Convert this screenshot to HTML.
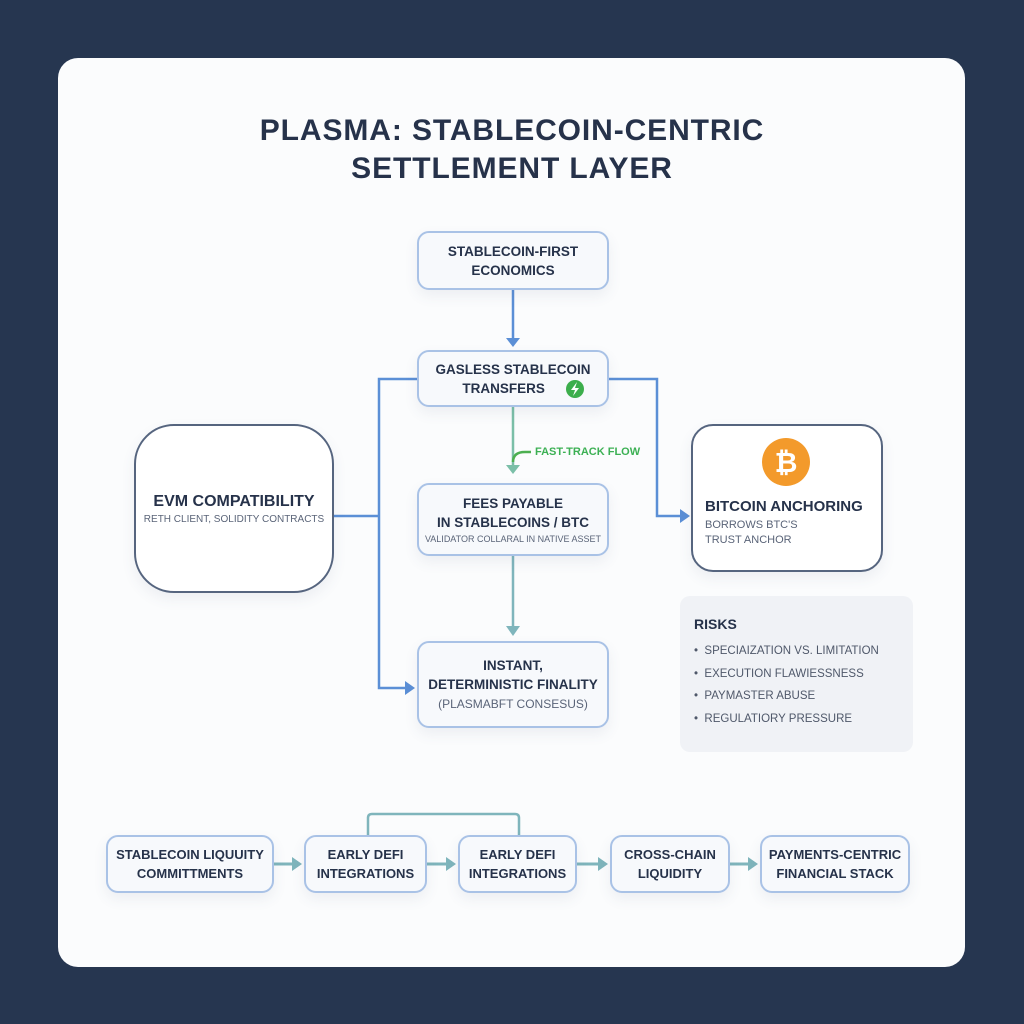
<!DOCTYPE html>
<html><head><meta charset="utf-8"><style>
*{margin:0;padding:0;box-sizing:border-box}
body{width:1024px;height:1024px;background:#263650;position:relative;overflow:hidden;font-family:"Liberation Sans",sans-serif;color:#26324a}
.card{position:absolute;left:58px;top:58px;width:907px;height:909px;background:#fbfcfd;border-radius:20px}
.t{position:absolute;left:0;width:1024px;text-align:center;font-weight:bold;font-size:30px;letter-spacing:0.9px;color:#26324a}
.b{position:absolute;border:2px solid #a9c2e6;border-radius:12px;background:#f7f9fc;display:flex;flex-direction:column;align-items:center;justify-content:center;text-align:center;font-weight:bold;font-size:13.5px;line-height:19px;color:#26324a;box-shadow:0 6px 14px rgba(60,80,120,.08)}
.s{font-weight:normal;font-size:10px;color:#5a6478;line-height:14px}
svg{position:absolute;left:0;top:0}
</style></head><body>
<div class="card"></div>
<div class="t" style="top:114px">PLASMA: STABLECOIN-CENTRIC</div>
<div class="t" style="top:152px">SETTLEMENT LAYER</div>
<svg width="1024" height="1024">
<g fill="none" stroke-width="2.5">
<path d="M513 290V338" stroke="#5b8fd6"/>
<path d="M417 379H379V688H405" stroke="#5b8fd6"/>
<path d="M334 516H379" stroke="#5b8fd6"/>
<path d="M609 379H657V516H680" stroke="#5b8fd6"/>
<path d="M513 407V465" stroke="#7bbfa8"/>
<path d="M513 462Q513 452 525 452H531" stroke="#4caf50"/>
<path d="M513 556V626" stroke="#7fb5bc"/>
<path d="M368 850V818Q368 814 372 814H515Q519 814 519 818V836" stroke="#7fb5bc"/>
<path d="M274 864H292M427 864H446M577 864H598M730 864H748" stroke="#7fb5bc" stroke-width="3"/>
</g>
<g>
<path d="M506 338H520L513 347Z" fill="#5b8fd6"/>
<path d="M405 681V695L415 688Z" fill="#5b8fd6"/>
<path d="M680 509V523L690 516Z" fill="#5b8fd6"/>
<path d="M506 465H520L513 474Z" fill="#7bbfa8"/>
<path d="M506 626H520L513 636Z" fill="#7fb5bc"/>
<path d="M292 857V871L302 864Z M446 857V871L456 864Z M598 857V871L608 864Z M748 857V871L758 864Z" fill="#7fb5bc"/>
</g>
<text x="535" y="455" font-family="Liberation Sans" font-size="11" font-weight="bold" fill="#3cb054">FAST-TRACK FLOW</text>
</svg>
<div class="b" style="left:417px;top:231px;width:192px;height:59px">STABLECOIN-FIRST<br>ECONOMICS</div>
<div class="b" style="left:417px;top:350px;width:192px;height:57px">GASLESS STABLECOIN<br>TRANSFERS &nbsp;&nbsp;&nbsp;&nbsp;</div>
<svg width="1024" height="1024" style="pointer-events:none"><circle cx="575" cy="389" r="9" fill="#3cae4c"/><path d="M577 382L571 390H575L573 396L579 388H575Z" fill="#fff"/></svg>
<div class="b" style="left:417px;top:483px;width:192px;height:73px">FEES PAYABLE<br>IN STABLECOINS / BTC<span class="s" style="font-size:9px">VALIDATOR COLLARAL IN NATIVE ASSET</span></div>
<div class="b" style="left:417px;top:641px;width:192px;height:87px">INSTANT,<br>DETERMINISTIC FINALITY<span class="s" style="font-size:12px;line-height:20px">(PLASMABFT CONSESUS)</span></div>
<div class="b" style="left:134px;top:424px;width:200px;height:169px;border-radius:40px;border-color:#56657f;background:#fff;font-size:16px;line-height:23px">EVM COMPATIBILITY<span class="s">RETH CLIENT, SOLIDITY CONTRACTS</span></div>
<div class="b" style="left:691px;top:424px;width:192px;height:148px;border-radius:22px;border-color:#56657f;background:#fff;align-items:flex-start;justify-content:flex-start;text-align:left;padding:70px 0 0 12px;font-size:15px;line-height:22px">BITCOIN ANCHORING<span class="s" style="font-size:11px;line-height:15px">BORROWS BTC'S<br>TRUST ANCHOR</span></div>
<svg width="1024" height="1024"><circle cx="786" cy="462" r="24" fill="#f39a2b"/><text x="786" y="472" text-anchor="middle" font-family="Liberation Sans" font-size="28" font-weight="bold" fill="#fff">₿</text></svg>
<div style="position:absolute;left:680px;top:596px;width:233px;height:156px;background:#f0f2f6;border-radius:10px;padding:20px 0 0 14px">
<div style="font-weight:bold;font-size:14px;color:#26324a;margin-bottom:8px">RISKS</div>
<div style="font-size:11.5px;color:#4f586a;line-height:22.5px">• &nbsp;SPECIAIZATION VS. LIMITATION<br>• &nbsp;EXECUTION FLAWIESSNESS<br>• &nbsp;PAYMASTER ABUSE<br>• &nbsp;REGULATIORY PRESSURE</div></div>
<div class="b" style="left:106px;top:835px;width:168px;height:58px;font-size:13px">STABLECOIN LIQUUITY<br>COMMITTMENTS</div>
<div class="b" style="left:304px;top:835px;width:123px;height:58px;font-size:13px">EARLY DEFI<br>INTEGRATIONS</div>
<div class="b" style="left:458px;top:835px;width:119px;height:58px;font-size:13px">EARLY DEFI<br>INTEGRATIONS</div>
<div class="b" style="left:610px;top:835px;width:120px;height:58px;font-size:13px">CROSS-CHAIN<br>LIQUIDITY</div>
<div class="b" style="left:760px;top:835px;width:150px;height:58px;font-size:13px">PAYMENTS-CENTRIC<br>FINANCIAL STACK</div>
</body></html>
